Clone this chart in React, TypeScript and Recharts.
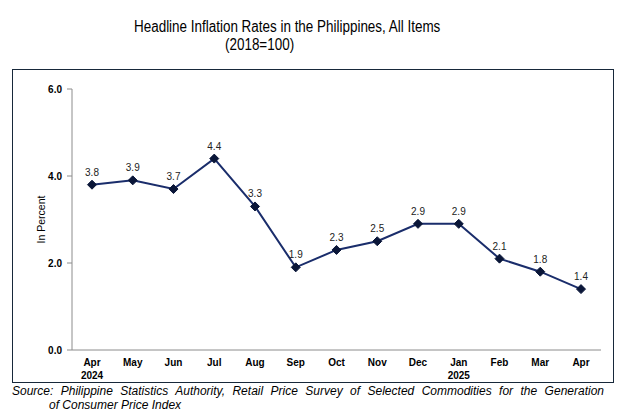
import React from "react";
import { LineChart, Line, XAxis, YAxis, LabelList } from "recharts";

const months = ["Apr\n2024", "May", "Jun", "Jul", "Aug", "Sep", "Oct", "Nov", "Dec", "Jan\n2025", "Feb", "Mar", "Apr"];
const inflation = [3.8, 3.9, 3.7, 4.4, 3.3, 1.9, 2.3, 2.5, 2.9, 2.9, 2.1, 1.8, 1.4];
const yTicks = [0, 2, 4, 6];

const data = months.map((m, i) => ({ month: m, rate: inflation[i] }));

const FONT = "'Liberation Sans', Arial, sans-serif";

function MonthTick({ x, y, payload }: any) {
  const lines = String(payload.value).split("\n");
  return (
    <text x={x} y={y + 8} textAnchor="middle" fontFamily={FONT} fontSize={10} fontWeight="bold" fill="#000">
      {lines.map((l, i) => (
        <tspan key={i} x={x} dy={i === 0 ? 0 : 13}>
          {l}
        </tspan>
      ))}
    </text>
  );
}

function Diamond({ cx, cy }: any) {
  if (cx == null || cy == null) return null;
  const r = 4.5;
  return <path d={`M${cx},${cy - r}L${cx + r},${cy}L${cx},${cy + r}L${cx - r},${cy}Z`} fill="#0a1638" stroke="#0a1638" strokeWidth={1} />;
}

const titleStyle: React.CSSProperties = {
  position: "absolute",
  fontFamily: FONT,
  fontSize: 16,
  whiteSpace: "nowrap",
  color: "#000",
  transform: "scaleX(0.84)",
  transformOrigin: "left top",
};

export default function App() {
  return (
    <div style={{ position: "absolute", left: 0, top: 0, width: 624, height: 420, background: "#fff", fontFamily: FONT }}>
      <div style={{ ...titleStyle, left: 134, top: 18 }}>Headline Inflation Rates in the Philippines, All Items</div>
      <div style={{ ...titleStyle, left: 225, top: 36 }}>(2018=100)</div>
      <div style={{ position: "absolute", left: 12, top: 69, width: 600, height: 312, border: "1.5px solid #17283a" }} />
      <div style={{ position: "absolute", left: 0, top: 0 }}>
        <LineChart width={624} height={420} data={data} margin={{ top: 89, right: 23, bottom: 0, left: 12 }}>
          <XAxis
            dataKey="month"
            interval={0}
            tickLine={false}
            axisLine={{ stroke: "#8c8c8c" }}
            tick={<MonthTick />}
            padding={{ left: 20, right: 20 }}
            height={70}
          />
          <YAxis
            domain={[0, 6]}
            ticks={yTicks}
            width={60}
            tickSize={5}
            tickMargin={5}
            tickLine={{ stroke: "#8c8c8c" }}
            axisLine={{ stroke: "#8c8c8c" }}
            tickFormatter={(v: number) => v.toFixed(1)}
            tick={{ fontSize: 10, fontWeight: "bold", fill: "#000", fontFamily: FONT }}
            label={{ value: "In Percent", angle: -90, position: "insideLeft", offset: 29, style: { fontSize: 10.5, fill: "#000", fontFamily: FONT, textAnchor: "middle" } }}
          />
          <Line
            type="linear"
            dataKey="rate"
            stroke="#1a2d6b"
            strokeWidth={2}
            dot={<Diamond />}
            activeDot={false}
            isAnimationActive={false}
          >
            <LabelList dataKey="rate" position="top" offset={9} formatter={(v: number) => v.toFixed(1)} style={{ fontSize: 10, fill: "#222", fontFamily: FONT }} />
          </Line>
        </LineChart>
      </div>
      <div style={{ position: "absolute", left: 12, top: 384, width: 592, fontStyle: "italic", fontSize: 12, color: "#000", textAlign: "justify", textAlignLast: "justify" as any }}>
        Source: Philippine Statistics Authority, Retail Price Survey of Selected Commodities for the Generation
      </div>
      <div style={{ position: "absolute", left: 49, top: 398, fontStyle: "italic", fontSize: 12, color: "#000", whiteSpace: "nowrap" }}>
        of Consumer Price Index
      </div>
    </div>
  );
}
